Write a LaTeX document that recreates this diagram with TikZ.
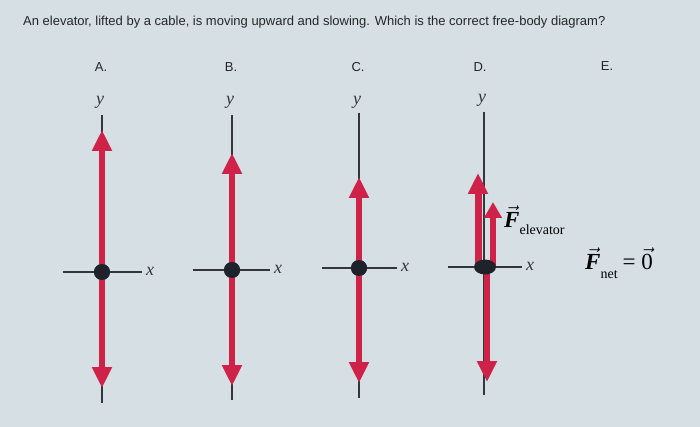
\documentclass[tikz,border=0pt]{standalone}
\usepackage{amsmath}
\usepackage{fontspec}
\setmainfont{Liberation Serif}
\newfontfamily\titlefont{Liberation Sans}
\usetikzlibrary{arrows.meta,shapes.geometric}
\definecolor{bgc}{RGB}{214,223,228}
\definecolor{redc}{RGB}{206,34,72}
\definecolor{axisc}{RGB}{52,54,60}
\definecolor{dotc}{RGB}{30,34,42}
\tikzset{
  axisline/.style={draw=axisc, line width=2pt},
  force/.style={draw=redc, line width=6pt, -{Triangle[length=21pt,width=19pt]}},
  smallforce/.style={draw=redc, line width=5.5pt, -{Triangle[length=16pt,width=17pt]}},
  body/.style={circle, fill=dotc, minimum size=16pt, inner sep=0pt},
  lbl/.style={font=\titlefont\fontsize{13}{15}\selectfont, text=black!85, inner sep=0pt},
  axlbl/.style={font=\fontsize{18}{18}\selectfont\itshape, text=axisc, inner sep=0pt},
}
\newcommand{\vecF}{\ensuremath{\vec{\text{\bfseries\itshape F}}}}
\begin{document}
\begin{tikzpicture}[x=1pt,y=-1pt]
\fill[bgc] (0,0) rectangle (700,427);
\useasboundingbox (0,0) rectangle (700,427);
\node[lbl, anchor=west] (title) at (23,22) {An elevator, lifted by a cable, is moving upward and slowing. Which is the correct free-body diagram?};
\node[lbl] (la) at (101,67) {A.};
\node[lbl] (lb) at (231,67) {B.};
\node[lbl] (lc) at (358,67) {C.};
\node[lbl] (ld) at (480,67) {D.};
\node[lbl] (le) at (607,66) {E.};

% A
\coordinate (aT) at (102,115); \coordinate (aB) at (102,403);
\coordinate (aL) at (63,272); \coordinate (aR) at (142,272);
\draw[axisline] (aT) -- (aB); \draw[axisline] (aL) -- (aR);
\node[axlbl] (ay) at (100,102) {y};
\node[axlbl, anchor=west] (ax) at (146,271) {x};
\coordinate (aU) at (102,130); \coordinate (aD) at (102,388);
\node[body] (a0) at (102,272) {};
\draw[force] (a0.center) -- (aU);
\draw[force] (a0.center) -- (aD);
\node[body] at (a0) {};

% B
\coordinate (bT) at (232,115); \coordinate (bB) at (232,400);
\coordinate (bL) at (193,270); \coordinate (bR) at (270,270);
\draw[axisline] (bT) -- (bB); \draw[axisline] (bL) -- (bR);
\node[axlbl] (by) at (230,102) {y};
\node[axlbl, anchor=west] (bx) at (274,269) {x};
\coordinate (bU) at (232,153); \coordinate (bD) at (232,386);
\node[body] (b0) at (232,270) {};
\draw[force] (b0.center) -- (bU);
\draw[force] (b0.center) -- (bD);
\node[body] at (b0) {};

% C
\coordinate (cT) at (359,113); \coordinate (cB) at (359,398);
\coordinate (cL) at (322,268); \coordinate (cR) at (397,268);
\draw[axisline] (cT) -- (cB); \draw[axisline] (cL) -- (cR);
\node[axlbl] (cy) at (357,102) {y};
\node[axlbl, anchor=west] (cx) at (401,267) {x};
\coordinate (cU) at (359,177); \coordinate (cD) at (359,383);
\node[body] (c0) at (359,268) {};
\draw[force] (c0.center) -- (cU);
\draw[force] (c0.center) -- (cD);
\node[body] at (c0) {};

% D
\coordinate (dT) at (484,112); \coordinate (dB) at (484,395);
\coordinate (dL) at (448,267); \coordinate (dR) at (522,267);
\draw[axisline] (dT) -- (dB); \draw[axisline] (dL) -- (dR);
\node[axlbl] (dy) at (482,100) {y};
\node[axlbl, anchor=west] (dx) at (526,266) {x};
\coordinate (dS1) at (478,267); \coordinate (dU1) at (478,173);
\coordinate (dS2) at (493,267); \coordinate (dU2) at (493,202);
\coordinate (dS3) at (487,267); \coordinate (dD) at (487,382);
\draw[force, line width=7pt] (dS1) -- (dU1);
\draw[smallforce] (dS2) -- (dU2);
\draw[force] (dS3) -- (dD);
\node[body, ellipse, minimum width=22pt, minimum height=15pt] (d0) at (485,267) {};
\node[inner sep=0pt, anchor=west] (dF) at (504,220) {\fontsize{23}{23}\selectfont\vecF\raisebox{-7pt}{\fontsize{14}{14}\selectfont elevator}};

% E
\node[inner sep=0pt, anchor=west] (eF) at (585,263) {\fontsize{23}{23}\selectfont\vecF\raisebox{-9pt}{\fontsize{14}{14}\selectfont net}\kern5pt= $\vec{\text{0}}$};
\end{tikzpicture}
\end{document}
